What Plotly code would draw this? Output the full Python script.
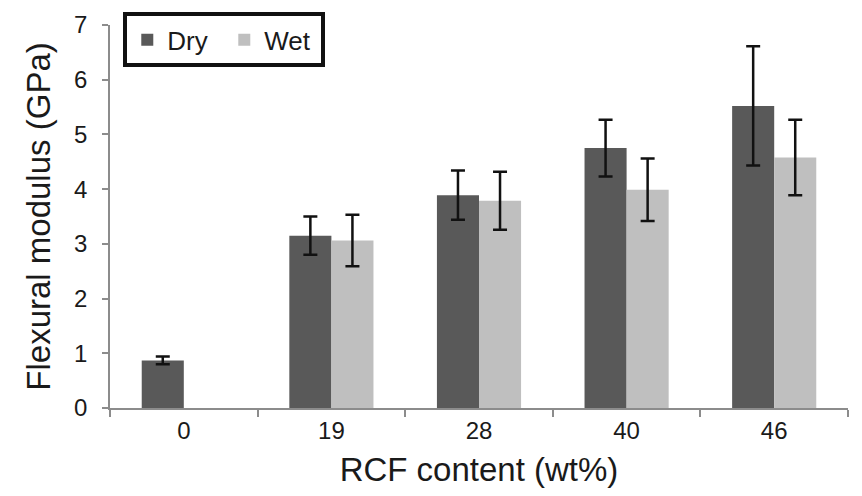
import plotly.graph_objects as go

categories = ["0", "19", "28", "40", "46"]
dry = [0.87, 3.15, 3.89, 4.75, 5.52]
dry_err = [0.07, 0.35, 0.45, 0.52, 1.09]
wet = [None, 3.06, 3.79, 3.99, 4.58]
wet_err = [None, 0.47, 0.53, 0.57, 0.69]

fig = go.Figure()
fig.add_trace(go.Bar(
    x=categories, y=dry, name="Dry",
    marker=dict(color="#595959", line=dict(width=0)),
    error_y=dict(type="data", array=dry_err, color="#111111", thickness=2.5, width=7),
))
fig.add_trace(go.Bar(
    x=categories, y=wet, name="Wet",
    marker=dict(color="#bfbfbf", line=dict(width=0)),
    error_y=dict(type="data", array=wet_err, color="#111111", thickness=2.5, width=7),
))

font_family = "Liberation Sans, Arial, sans-serif"
fig.update_layout(
    width=862, height=496,
    margin=dict(l=110, r=14, t=15, b=88),
    paper_bgcolor="white", plot_bgcolor="white",
    barmode="group", bargap=0.43, bargroupgap=0,
    font=dict(family=font_family, color="#1a1a1a", size=24),
    showlegend=True,
    legend=dict(
        orientation="h", x=0.018, y=1.033, xanchor="left", yanchor="top",
        bordercolor="#111111", borderwidth=4, bgcolor="white",
        font=dict(size=26, family=font_family, color="#1a1a1a"),
        itemwidth=30, tracegroupgap=0, entrywidth=52,
    ),
    xaxis=dict(
        type="category",
        showline=True, linecolor="#8c8c8c", linewidth=1.5,
        ticks="outside", tickson="boundaries", ticklen=7, tickcolor="#8c8c8c", tickwidth=1.5,
        tickfont=dict(size=24),
        title=dict(text="RCF content (wt%)", font=dict(size=33), standoff=15),
        showgrid=False,
    ),
    yaxis=dict(
        range=[0, 7], dtick=1,
        showline=True, linecolor="#8c8c8c", linewidth=1.5,
        ticks="outside", ticklen=6, tickcolor="#8c8c8c", tickwidth=1.5,
        tickfont=dict(size=24), ticklabelstandoff=10,
        title=dict(text="Flexural modulus (GPa)", font=dict(size=33), standoff=14),
        showgrid=False, zeroline=False,
    ),
)

fig.write_html("out.html")
